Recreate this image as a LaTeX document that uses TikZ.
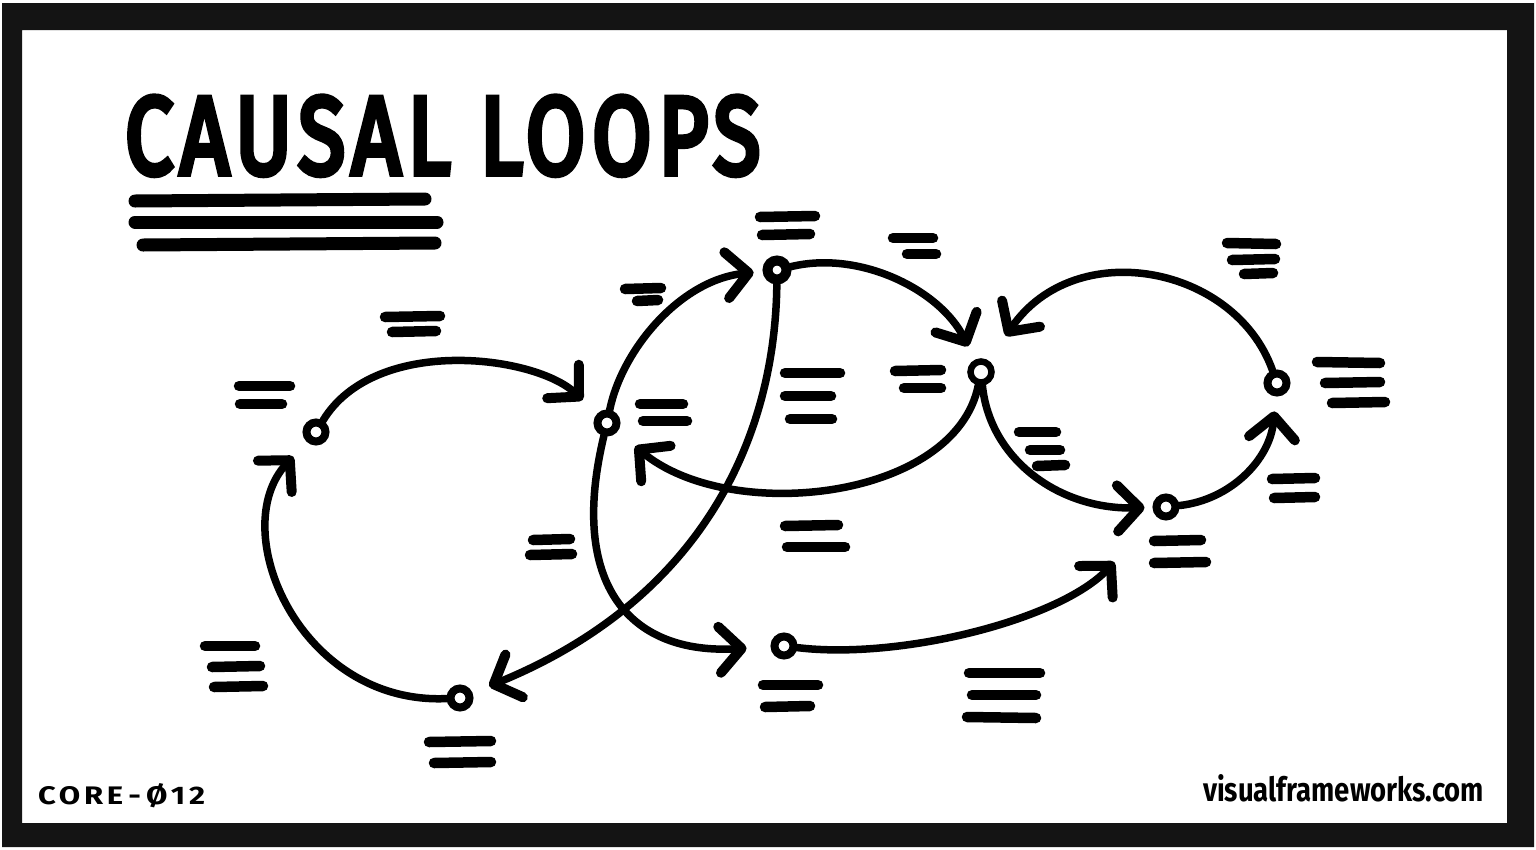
\documentclass[tikz,border=0pt]{standalone}
\usepackage{fontspec}
\usepackage{graphicx}
\usetikzlibrary{arrows.meta}
\newfontfamily\hand{Fira Sans}
\begin{document}
\begin{tikzpicture}[x=1pt,y=-1pt,
  conn/.style={line width=7.5pt, line cap=round,
    -{Straight Barb[length=22pt,width=46pt,line width=10pt,round]}},
  pt/.style={circle, draw, line width=8pt, minimum size=19pt, inner sep=0pt, fill=white},
  bar/.style={line width=10.5pt, line cap=round},
  tbar/.style={line width=13pt, line cap=round},
  txt/.style={inner sep=0pt, outer sep=0pt}]
% canvas and frame
\fill[white] (0,0) rectangle (1536,849);
\useasboundingbox (0,0) rectangle (1536,849);
\fill[black!92, even odd rule] (2,3) rectangle (1534,847) (22,30) rectangle (1507,823);

% title
\node[txt, anchor=south west] (title) at (125,175)
  {\resizebox{635pt}{77pt}{\hand\addfontfeature{LetterSpace=8,FakeBold=6}CAUSAL LOOPS}};
\draw[tbar] (135,201) -- (425,199);
\draw[tbar] (135,222) -- (437,222);
\draw[tbar] (143,245) -- (435,243);

% footer texts
\node[txt, anchor=south west] (code) at (38,808)
  {\resizebox{167pt}{21pt}{\hand\bfseries\addfontfeature{LetterSpace=12}CORE\,-\,Ø12}};
\node[txt, anchor=south west] (site) at (1203,802)
  {\resizebox{281pt}{27pt}{\hand\bfseries visualframeworks.com}};

% points
\node[pt] (n1) at (316,432) {};
\node[pt] (n2) at (607,423) {};
\node[pt, line width=10pt] (n3) at (777,270) {};
\node[pt, line width=6.5pt, minimum size=21pt] (n4) at (981,372) {};
\node[pt] (n5) at (1277,383) {};
\node[pt] (n6) at (1166,507) {};
\node[pt] (n7) at (784,646) {};
\node[pt] (n8) at (460,698) {};

% connectors
\draw[conn, shorten >=20pt] (n1) .. controls (375,335) and (535,355) .. (n2);
\draw[conn, shorten >=20pt] (n8) .. controls (300,705) and (225,530) .. (n1);
\draw[conn, shorten >=9pt] (n2) .. controls (622,350) and (680,280) .. (n3);
\draw[conn, shorten >=18pt] (n3) .. controls (775,440) and (700,600) .. (n8);
\draw[conn, shorten >=15pt] (n3) .. controls (860,250) and (940,290) .. (n4);
\draw[conn, shorten >=30pt] (n5) .. controls (1235,265) and (1075,235) .. (n4);
\draw[conn, shorten >=23pt] (n4) .. controls (955,500) and (730,525) .. (n2);
\draw[conn, shorten >=8pt] (n4) .. controls (990,460) and (1060,510) .. (n6);
\draw[conn, shorten >=15pt] (n6) .. controls (1230,500) and (1270,460) .. (n5);
\draw[conn, shorten >=24pt] (n2) .. controls (568,585) and (630,655) .. (n7);
\draw[conn, shorten >=62pt] (n7) .. controls (900,660) and (1060,620) .. (n6);

% placeholder label bars
\draw[bar] (239,386) -- (290,386); \draw[bar] (240,404) -- (282,404);
\draw[bar] (385,317) -- (440,316); \draw[bar] (392,332) -- (436,331);
\draw[bar] (640,404) -- (683,404); \draw[bar] (643,421) -- (687,421);
\draw[bar] (760,217) -- (815,216); \draw[bar] (762,235) -- (810,234);
\draw[bar] (893,238) -- (933,238); \draw[bar] (907,254) -- (936,254);
\draw[bar] (625,289) -- (661,288); \draw[bar] (637,301) -- (658,300);
\draw[bar] (785,373) -- (840,373); \draw[bar] (785,396) -- (831,396); \draw[bar] (790,419) -- (832,419);
\draw[bar] (895,371) -- (941,370); \draw[bar] (904,388) -- (941,388);
\draw[bar] (1019,432) -- (1056,432); \draw[bar] (1030,450) -- (1060,450); \draw[bar] (1037,466) -- (1065,465);
\draw[bar] (1227,243) -- (1276,244); \draw[bar] (1232,260) -- (1275,259); \draw[bar] (1244,274) -- (1273,273);
\draw[bar] (1317,362) -- (1380,363); \draw[bar] (1325,383) -- (1380,382); \draw[bar] (1332,403) -- (1385,402);
\draw[bar] (1272,479) -- (1315,478); \draw[bar] (1274,498) -- (1315,497);
\draw[bar] (1154,541) -- (1201,540); \draw[bar] (1154,563) -- (1206,562);
\draw[bar] (785,526) -- (838,525); \draw[bar] (787,547) -- (845,547);
\draw[bar] (533,540) -- (570,539); \draw[bar] (530,555) -- (572,554);
\draw[bar] (763,685) -- (818,685); \draw[bar] (765,707) -- (810,706);
\draw[bar] (969,673) -- (1040,673); \draw[bar] (972,695) -- (1036,695); \draw[bar] (967,717) -- (1036,718);
\draw[bar] (205,646) -- (255,646); \draw[bar] (212,667) -- (260,666); \draw[bar] (214,687) -- (263,686);
\draw[bar] (429,742) -- (491,741); \draw[bar] (434,763) -- (491,762);
\end{tikzpicture}
\end{document}
